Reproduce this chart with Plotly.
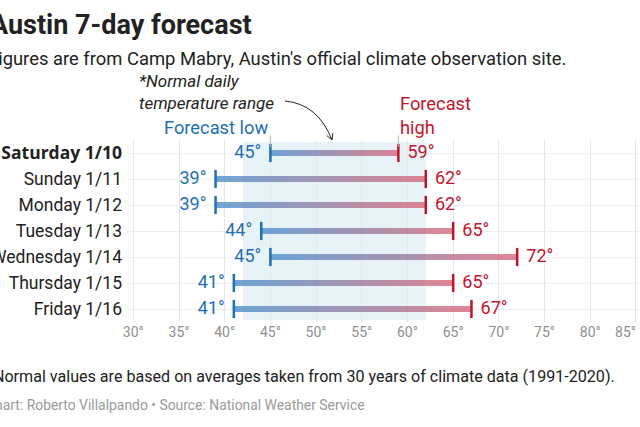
import math
import plotly.graph_objects as go

# ---------------- data ----------------
days = ["Saturday 1/10", "Sunday 1/11", "Monday 1/12", "Tuesday 1/13",
        "Wednesday 1/14", "Thursday 1/15", "Friday 1/16"]
lows = [45, 39, 39, 44, 45, 41, 41]
highs = [59, 62, 62, 65, 72, 65, 67]
normal_low = 42
normal_high = 62
x_ticks = [30, 35, 40, 45, 50, 55, 60, 65, 70, 75, 80, 85]
x_tick_labels = ["30°", "35°", "40°", "45°", "50°", "55°", "60°", "65°",
                 "70°", "75°", "80°", "85°"]

# ---------------- layout constants ----------------
W, H = 640, 427
ML, MR, MT, MB = 127, 0, 140, 105
PW, PH = W - ML - MR, H - MT - MB
FONT = "Roboto"
BLUE_TXT = "#1f6fb4"
RED_TXT = "#c2142f"
BLUE_BAR = "rgba(70,142,205,0.78)"
RED_BAR = "rgba(212,88,108,0.72)"


def px_x(px):
    return (px - ML) / PW


def px_y(py):
    return (H - MB - py) / PH


fig = go.Figure()

# normal range band
fig.add_shape(type="rect", xref="x", yref="y", x0=normal_low, x1=normal_high,
              y0=-0.42, y1=len(days) - 1 + 0.42, fillcolor="#e7f3f6",
              line=dict(width=0), layer="below")

# gradient bars
hw = 0.115
for i, (lo, hi) in enumerate(zip(lows, highs)):
    fig.add_trace(go.Scatter(
        x=[lo, hi, hi, lo, lo], y=[i - hw, i - hw, i + hw, i + hw, i - hw],
        mode="lines", fill="toself", line=dict(width=0),
        fillgradient=dict(type="horizontal",
                          colorscale=[[0, BLUE_BAR], [1, RED_BAR]]),
        hoverinfo="skip", showlegend=False))

# low markers + labels
fig.add_trace(go.Scatter(
    x=lows, y=list(range(len(days))), mode="markers+text",
    marker=dict(symbol="line-ns", size=13, line=dict(width=2.5, color=BLUE_TXT)),
    text=[f"{v}°" for v in lows], textposition="middle left",
    textfont=dict(family=FONT, size=18, color=BLUE_TXT),
    cliponaxis=False, showlegend=False, hoverinfo="skip"))

# high markers + labels
fig.add_trace(go.Scatter(
    x=highs, y=list(range(len(days))), mode="markers+text",
    marker=dict(symbol="line-ns", size=13, line=dict(width=2.5, color=RED_TXT)),
    text=[f"{v}°" for v in highs], textposition="middle right",
    textfont=dict(family=FONT, size=18, color=RED_TXT),
    cliponaxis=False, showlegend=False, hoverinfo="skip"))

# leader lines from legend labels to first row
for v in (lows[0], highs[0]):
    fig.add_annotation(x=v, y=0, xref="x", yref="y", text="", showarrow=True,
                       arrowhead=0, arrowwidth=1, arrowcolor="#b5b5b5",
                       ax=0, ay=-19, standoff=6)

ann = []
ann.append(dict(x=lows[0], xref="x", y=px_y(127), yref="paper",
                text="Forecast low", xanchor="right", yanchor="middle",
                showarrow=False, font=dict(family=FONT, size=18.3, color=BLUE_TXT)))
ann.append(dict(x=highs[0], xref="x", y=px_y(115), yref="paper",
                text="Forecast<br>high", xanchor="left", yanchor="middle", align="left",
                showarrow=False, font=dict(family=FONT, size=18.3, color=RED_TXT)))
ann.append(dict(x=px_x(137), xref="paper", y=px_y(91.5), yref="paper",
                text="<i>*Normal daily<br>temperature range</i>", xanchor="left",
                yanchor="middle", align="left", showarrow=False,
                font=dict(family=FONT, size=17, color="#222222")))

# titles and notes
ann.append(dict(x=px_x(-12), xref="paper", y=px_y(25), yref="paper",
                text="<b>Austin 7-day forecast</b>", xanchor="left", yanchor="middle",
                showarrow=False, font=dict(family=FONT, size=27, color="#222222")))
ann.append(dict(x=px_x(-14), xref="paper", y=px_y(58), yref="paper",
                text="Figures are from Camp Mabry, Austin's official climate observation site.",
                xanchor="left", yanchor="middle", showarrow=False,
                font=dict(family=FONT, size=18.4, color="#222222")))
ann.append(dict(x=px_x(-16), xref="paper", y=px_y(376), yref="paper",
                text="*Normal values are based on averages taken from 30 years of climate data (1991-2020).",
                xanchor="left", yanchor="middle", showarrow=False,
                font=dict(family=FONT, size=16.1, color="#222222")))
ann.append(dict(x=px_x(-16), xref="paper", y=px_y(405), yref="paper",
                text="Chart: Roberto Villalpando • Source: National Weather Service",
                xanchor="left", yanchor="middle", showarrow=False,
                font=dict(family=FONT, size=13.9, color="#9a9a9a")))

# curved arrow (pixel coords -> paper)
sx, sy = 285, 101
cx, cy = 318, 104
ex, ey = 332, 140
dx, dy = ex - cx, ey - cy
n = (dx ** 2 + dy ** 2) ** 0.5
ux, uy = dx / n, dy / n
arm = 7
pts = []
for ang in (math.radians(28), -math.radians(28)):
    bx = -ux * math.cos(ang) + uy * math.sin(ang)
    by = -uy * math.cos(ang) - ux * math.sin(ang)
    pts.append((ex + arm * bx, ey + arm * by))
path = (f"M {px_x(sx)},{px_y(sy)} Q {px_x(cx)},{px_y(cy)} {px_x(ex)},{px_y(ey)} "
        f"M {px_x(pts[0][0])},{px_y(pts[0][1])} L {px_x(ex)},{px_y(ey)} "
        f"L {px_x(pts[1][0])},{px_y(pts[1][1])}")
fig.add_shape(type="path", xref="paper", yref="paper", path=path,
              line=dict(color="#222222", width=1))

ticktext_days = [
    f"<span style=\"font-family:'Open Sans';font-weight:bold\">{d}</span>" if i == 0 else d
    for i, d in enumerate(days)]
x_tick_display = x_tick_labels[:-1] + [x_tick_labels[-1] + "\u00a0" * 6]

fig.update_layout(
    width=W, height=H,
    margin=dict(l=ML, r=MR, t=MT, b=MB, autoexpand=False),
    paper_bgcolor="white", plot_bgcolor="white",
    showlegend=False,
    annotations=fig.layout.annotations + tuple(ann),
    xaxis=dict(range=[29.31, 85.44], tickvals=x_ticks, ticktext=x_tick_display,
               showgrid=True, gridcolor="#e6e6e6", gridwidth=1, zeroline=False,
               showline=False, ticks="", fixedrange=True, ticklabeloverflow="allow",
               tickfont=dict(family=FONT, size=14, color="#8f8f8f")),
    yaxis=dict(range=[len(days) - 0.5, -0.5], tickvals=list(range(len(days))),
               ticktext=ticktext_days, showgrid=True, gridcolor="#eeeeee",
               zeroline=False, showline=False, ticks="", ticklabelstandoff=4,
               tickfont=dict(family=FONT, size=17.5, color="#222222")),
)

fig.write_html("out.html")
